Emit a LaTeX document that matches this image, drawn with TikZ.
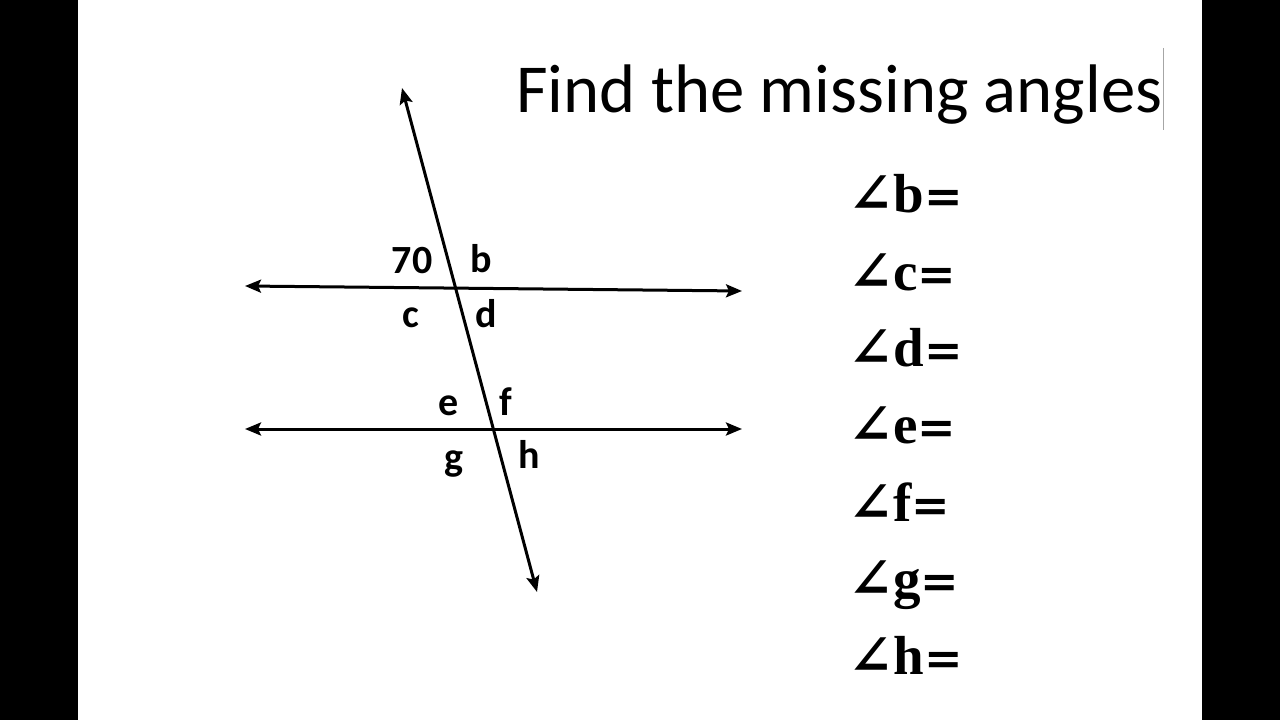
\documentclass[tikz,border=0pt]{standalone}
\usepackage{fontspec}
\usetikzlibrary{arrows.meta}
\newfontfamily\carlito{Carlito}
\newfontfamily\lserif{Liberation Serif}
\newfontfamily\dvserif{DejaVu Serif}
\newcommand\angsym{{\dvserif\bfseries\fontsize{54bp}{58bp}\selectfont ∠}}
\newcommand\eqsym{{\dvserif\bfseries\fontsize{46bp}{50bp}\selectfont =}}
\begin{document}
\begin{tikzpicture}[x=1bp,y=-1bp,
  tip/.tip={Stealth[length=16bp,width=13bp,inset=3bp]},
  dline/.style={line width=3bp,{tip}-{tip}},
  lbl/.style={font=\carlito\bfseries\fontsize{40bp}{42bp}\selectfont,anchor=base,inner sep=0pt},
  ans/.style={font=\lserif\bfseries\fontsize{55bp}{58bp}\selectfont,anchor=base west,inner sep=0pt}]
\fill[black] (0,0) rectangle (1280,720);
\fill[white] (78,0) rectangle (1202,720);
\useasboundingbox (0,0) rectangle (1280,720);
% title
\node[font=\carlito\fontsize{68.7bp}{78bp}\selectfont,anchor=base west,inner sep=0pt] (title) at (516,113) {Find the missing angles};
\coordinate (cur1) at (1163,48);
\coordinate (cur2) at (1163,130);
\draw[gray!70,line width=1bp] (cur1) -- (cur2);
% lines
\coordinate (l1a) at (245,286);
\coordinate (l1b) at (742,291);
\coordinate (l2a) at (245,429);
\coordinate (l2b) at (742,429);
\coordinate (ta) at (402,88);
\coordinate (tb) at (537,592);
\draw[dline] (l1a) -- (l1b);
\draw[dline] (l2a) -- (l2b);
\draw[dline] (ta) -- (tb);
% labels
\node[lbl] (n70) at (412,273) {70};
\node[lbl] (nb) at (481,272) {b};
\node[lbl] (nc) at (411,327) {c};
\node[lbl] (nd) at (486,327) {d};
\node[lbl] (ne) at (449,415) {e};
\node[lbl] (nf) at (506,415) {f};
\node[lbl] (ng) at (454,470) {g};
\node[lbl] (nh) at (529,468) {h};
% answers
\node[ans] (ab) at (848,213) {\angsym b\eqsym};
\node[ans] (ac) at (848,290) {\angsym c\eqsym};
\node[ans] (ad) at (848,366) {\angsym d\eqsym};
\node[ans] (ae) at (848,443) {\angsym e\eqsym};
\node[ans] (af) at (848,521) {\angsym f\eqsym};
\node[ans] (ag) at (848,597) {\angsym g\eqsym};
\node[ans] (ah) at (848,674) {\angsym h\eqsym};
\end{tikzpicture}
\end{document}
